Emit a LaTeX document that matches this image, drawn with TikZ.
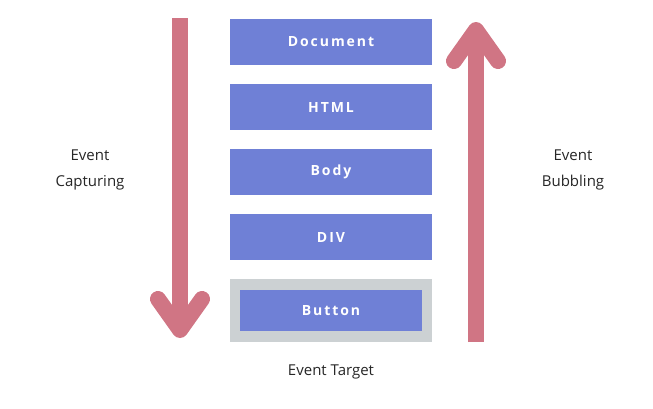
\documentclass[tikz,border=0pt]{standalone}
\usepackage{fontspec}
\setmainfont{Open Sans}
\newfontfamily\boxfont[LetterSpace=14]{Open Sans Bold}
\definecolor{boxblue}{HTML}{6F80D6}
\definecolor{arrowred}{HTML}{D07584}
\definecolor{framegray}{HTML}{CCD1D3}
\begin{document}
\begin{tikzpicture}[x=1pt,y=-1pt,
  layer/.style={fill=boxblue,draw=none,minimum width=202pt,minimum height=46pt,inner sep=0pt,text=white,font=\boxfont\fontsize{14}{16}\selectfont},
  side/.style={align=center,font=\fontsize{15}{30}\selectfont,text=black!85},
  shaft/.style={draw=arrowred,line width=16pt,line cap=butt},
  chev/.style={draw=arrowred,line width=16pt,line cap=round,line join=round}]
\useasboundingbox (0,0) rectangle (653,408);
\node[layer] (doc) at (331,41.5) {Document};
\node[layer] (html) at (331,107) {HTML};
\node[layer] (body) at (331,172) {Body};
\node[layer] (div) at (331,237) {DIV};
\node[fill=framegray,minimum width=202pt,minimum height=63pt,inner sep=0pt] (frame) at (331,310.5) {};
\node[layer,minimum width=182pt,minimum height=41pt] (btn) at (331,310.5) {Button};
\node[side] (cap) at (90,170) {Event\\[-4pt]Capturing};
\node[side] (bub) at (573,170) {Event\\[-4pt]Bubbling};
\node[side] (tgt) at (331,372) {Event Target};
\draw[shaft] (180,18) -- (180,326);
\draw[chev] (158,299) -- (180,330) -- (202,299);
\draw[shaft] (476,342) -- (476,34);
\draw[chev] (454,61) -- (476,30) -- (498,61);
\end{tikzpicture}
\end{document}
